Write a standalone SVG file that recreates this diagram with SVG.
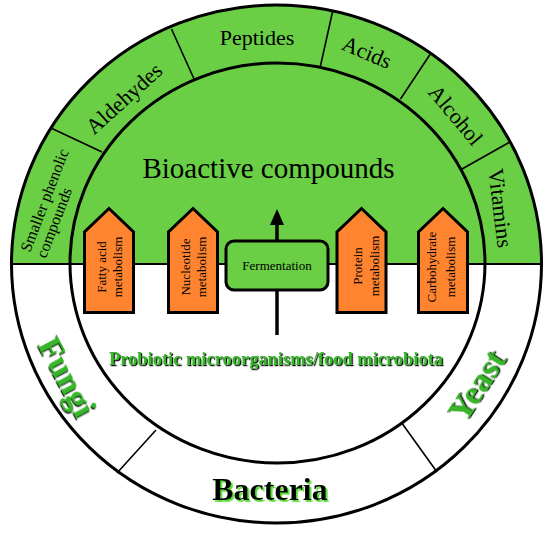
<svg xmlns="http://www.w3.org/2000/svg" width="550" height="534" viewBox="0 0 550 534">
<defs>
<style>
.serif{font-family:"Liberation Serif","Times New Roman",serif;fill:#000}
.ring{font-size:22px}
.box{fill:#FF842F;stroke:#000;stroke-width:3;stroke-linejoin:miter}
.boxt{font-size:13px;text-anchor:middle}
.div{stroke:#000;stroke-width:1.6;fill:none}
.big{font-weight:bold;font-size:32px;text-anchor:middle}
</style>
<filter id="shBlack" x="-10%" y="-30%" width="120%" height="160%">
<feDropShadow dx="1.2" dy="1.2" stdDeviation="0.4" flood-color="#000" flood-opacity="1"/>
</filter>
<filter id="shGreen" x="-10%" y="-30%" width="120%" height="160%">
<feDropShadow dx="1.8" dy="1.8" stdDeviation="0.6" flood-color="#55DD33" flood-opacity="1"/>
</filter>
<marker id="arr" viewBox="0 0 16 14" refX="10" refY="7" markerWidth="16" markerHeight="14" markerUnits="userSpaceOnUse" orient="auto">
<path d="M0,0 L16,7 L0,14 z" fill="#000"/>
</marker>
</defs>
<rect width="550" height="534" fill="#fff"/>
<g id="background">
<path d="M11.5,264 A265,259 0 0 1 541.5,264 Z" fill="#6ACF45"/>
<g class="div">
<line x1="52" y1="128.5" x2="102" y2="152"/>
<line x1="171.5" y1="29" x2="194.5" y2="80"/>
<line x1="332.5" y1="12" x2="320" y2="68"/>
<line x1="430" y1="54.5" x2="400.5" y2="99"/>
<line x1="509" y1="142.5" x2="462" y2="169"/>
<line x1="156" y1="430" x2="117" y2="473"/>
<line x1="402.5" y1="424" x2="437" y2="472"/>
</g>
<line x1="11" y1="264" x2="542" y2="264" stroke="#000" stroke-width="2"/>
<ellipse cx="277.5" cy="263" rx="207.5" ry="200" fill="none" stroke="#000" stroke-width="3"/>
<ellipse cx="276.5" cy="264" rx="265" ry="259" fill="none" stroke="#000" stroke-width="3"/>
</g>
<g id="ring-labels" class="serif ring">
<text transform="translate(30,253) rotate(-69)"><tspan x="0" y="0" font-size="16">Smaller phenolic</tspan><tspan x="0" y="17" font-size="16">compounds</tspan></text>
<text transform="translate(129,104) rotate(-42)" text-anchor="middle">Aldehydes</text>
<text x="257" y="45" text-anchor="middle">Peptides</text>
<text transform="translate(364,59) rotate(23)" text-anchor="middle">Acids</text>
<text transform="translate(450,120) rotate(50)" text-anchor="middle">Alcohol</text>
<text transform="translate(493,209) rotate(83)" text-anchor="middle">Vitamins</text>
</g>
<text id="title" class="serif" x="268.5" y="178" font-size="29" text-anchor="middle">Bioactive compounds</text>
<g id="connectors">
<line x1="277" y1="335" x2="277" y2="215" stroke="#000" stroke-width="3.5" marker-end="url(#arr)"/>
</g>
<g id="fatty">
<path class="box" d="M84.5,312.5 V232 L109,208.5 L133.5,232 V312.5 Z"/>
<text class="serif boxt" transform="translate(109,267) rotate(-90)"><tspan x="0" y="-3">Fatty acid</tspan><tspan x="0" y="13">metabolism</tspan></text>
</g>
<g id="nucleotide">
<path class="box" d="M168.5,312.5 V232 L193,208.5 L217.5,232 V312.5 Z"/>
<text class="serif boxt" transform="translate(193,267) rotate(-90)"><tspan x="0" y="-3">Nucleotide</tspan><tspan x="0" y="13">metabolism</tspan></text>
</g>
<g id="fermentation">
<rect x="226" y="241" width="102" height="49" rx="8" fill="#6ACF45" stroke="#000" stroke-width="3"/>
<text class="serif" x="277" y="270" font-size="13" text-anchor="middle">Fermentation</text>
</g>
<g id="protein">
<path class="box" d="M337,312.5 V232 L361.5,208.5 L386,232 V312.5 Z"/>
<text class="serif boxt" transform="translate(361.5,266) rotate(-90)" font-size="14"><tspan x="0" y="0">Protein</tspan><tspan x="0" y="17">metabolism</tspan></text>
</g>
<g id="carbohydrate">
<path class="box" d="M418.5,312.5 V232 L443,208.5 L467.5,232 V312.5 Z"/>
<text class="serif boxt" transform="translate(443,267) rotate(-90)" font-size="12.5"><tspan x="0" y="-7">Carbohydrate</tspan><tspan x="0" y="12">metabolism</tspan></text>
</g>
<text id="probiotic" class="serif" x="276" y="365" font-size="18.5" font-weight="bold" text-anchor="middle" textLength="334" lengthAdjust="spacingAndGlyphs" style="fill:#38B52C" filter="url(#shBlack)">Probiotic microorganisms/food microbiota</text>
<g id="fungi"><text class="serif big" transform="translate(57,382) rotate(62)" font-size="34" style="fill:#38B52C;font-size:34px" filter="url(#shBlack)">Fungi</text></g>
<g id="bacteria"><text class="serif big" x="270" y="500" filter="url(#shGreen)">Bacteria</text></g>
<g id="yeast"><text class="serif big" transform="translate(486,392) rotate(-57)" style="fill:#38B52C;font-size:34px" filter="url(#shBlack)">Yeast</text></g>
</svg>
